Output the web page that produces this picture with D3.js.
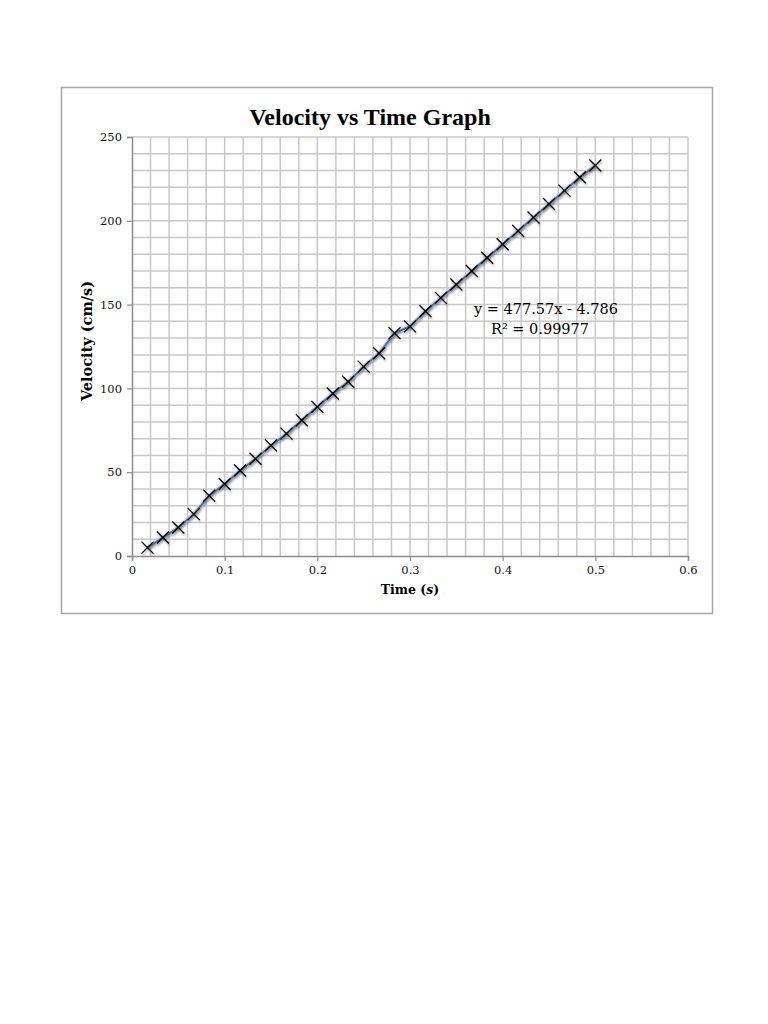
<!DOCTYPE html>
<html><head><meta charset="utf-8">
<script src="https://cdn.jsdelivr.net/npm/d3@7"></script>
<style>body{margin:0;background:#fff}</style>
</head><body>
<script>
const times = [0.0167,0.0333,0.05,0.0667,0.0833,0.1,0.1167,0.1333,0.15,0.1667,0.1833,0.2,0.2167,0.2333,0.25,0.2667,0.2833,0.3,0.3167,0.3333,0.35,0.3667,0.3833,0.4,0.4167,0.4333,0.45,0.4667,0.4833,0.5];
const velocities = [5,11,17,25,36,43,51,58,66,73,81,89,97,104,113,121,133,137,146,154,162,170,178,186,194,202,210,218,226,233];
const xTicks = [0,0.1,0.2,0.3,0.4,0.5,0.6];
const yTicks = [0,50,100,150,200,250];
const equationLines = ["y = 477.57x - 4.786", "R² = 0.99977"];

const W = 768, H = 1024;
const svg = d3.select("body").append("svg").attr("width", W).attr("height", H);
const serif = "'Liberation Serif','DejaVu Serif',serif";
const dserif = "'DejaVu Serif','Liberation Serif',serif";

const defs = svg.append("defs");
const f = defs.append("filter").attr("id","glow").attr("x","-20%").attr("y","-20%").attr("width","140%").attr("height","140%");
f.append("feGaussianBlur").attr("in","SourceAlpha").attr("stdDeviation",1.2).attr("result","b");
f.append("feOffset").attr("in","b").attr("dx",1).attr("dy",1.5).attr("result","o");
f.append("feComponentTransfer").attr("in","o").attr("result","o2").append("feFuncA").attr("type","linear").attr("slope",0.35);
const m = f.append("feMerge"); m.append("feMergeNode").attr("in","o2"); m.append("feMergeNode").attr("in","SourceGraphic");

// frame
svg.append("rect").attr("x",61.5).attr("y",87.5).attr("width",651).attr("height",526)
  .attr("fill","#fff").attr("stroke","#a6a6a6").attr("stroke-width",1.5);

const L = 132, R = 688, T = 137, B = 556;
const x = d3.scaleLinear().domain([0,0.6]).range([L,R]);
const y = d3.scaleLinear().domain([0,250]).range([B,T]);

// grid
const g = svg.append("g");
g.selectAll(".vx").data(d3.range(1,31).map(i=>i*0.02)).join("line")
  .attr("x1",d=>x(d)).attr("x2",d=>x(d)).attr("y1",T).attr("y2",B)
  .attr("stroke","#c8c8c8").attr("stroke-width",1.5);
g.selectAll(".hy").data(d3.range(1,26).map(i=>i*10)).join("line")
  .attr("x1",L).attr("x2",R).attr("y1",d=>y(d)).attr("y2",d=>y(d))
  .attr("stroke","#c8c8c8").attr("stroke-width",1.5);

// axes
const xAxis = svg.append("g").attr("transform",`translate(0,${B})`)
  .call(d3.axisBottom(x).tickValues(xTicks).tickSize(5).tickPadding(5).tickFormat(d=>d===0?"0":String(d)));
const yAxis = svg.append("g").attr("transform",`translate(${L},0)`)
  .call(d3.axisLeft(y).tickValues(yTicks).tickSize(5).tickPadding(5));
[xAxis,yAxis].forEach(a=>{
  a.attr("font-family",dserif).attr("font-size",11.5);
  a.select(".domain").attr("stroke","#8c8c8c").attr("stroke-width",1.5);
  a.selectAll(".tick line").attr("stroke","#8c8c8c").attr("stroke-width",1.2);
  a.selectAll("text").attr("fill","#111");
});

// series line
const line = d3.line().x((d,i)=>x(times[i])).y(d=>y(d));
svg.append("path").datum(velocities).attr("d",line).attr("fill","none")
  .attr("stroke","#b9cde6").attr("stroke-width",4.5).attr("opacity",0.7);
svg.append("path").datum(velocities).attr("d",line).attr("fill","none")
  .attr("stroke","#4a6c9a").attr("stroke-width",1.9).attr("filter","url(#glow)");

// markers
const s = 6;
const mk = svg.append("g").attr("filter","url(#glow)");
mk.selectAll("path.m").data(velocities).join("path")
  .attr("d",(d,i)=>{const cx=x(times[i]), cy=y(d);
    return `M${cx-s},${cy-s}L${cx+s},${cy+s}M${cx-s},${cy+s}L${cx+s},${cy-s}`;})
  .attr("stroke","#000").attr("stroke-width",1.3).attr("fill","none");

// title
svg.append("text").attr("x",370).attr("y",125).attr("text-anchor","middle")
  .attr("font-family",serif).attr("font-weight","bold").attr("font-size",24).text("Velocity vs Time Graph");
// axis titles
svg.append("text").attr("x",410).attr("y",594).attr("text-anchor","middle")
  .attr("font-family",dserif).attr("font-weight","bold").attr("font-size",12.5)
  .html("Time (<tspan font-style='italic'>s</tspan>)");
svg.append("text").attr("transform","translate(92,341) rotate(-90)").attr("text-anchor","middle")
  .attr("font-family",dserif).attr("font-weight","bold").attr("font-size",14.5).text("Velocity (cm/s)");

// equation
svg.append("text").attr("x",546).attr("y",314).attr("text-anchor","middle")
  .attr("font-family",dserif).attr("font-size",14.5).text(equationLines[0]);
svg.append("text").attr("x",540).attr("y",334).attr("text-anchor","middle")
  .attr("font-family",dserif).attr("font-size",14.5).text(equationLines[1]);
</script>
</body></html>
